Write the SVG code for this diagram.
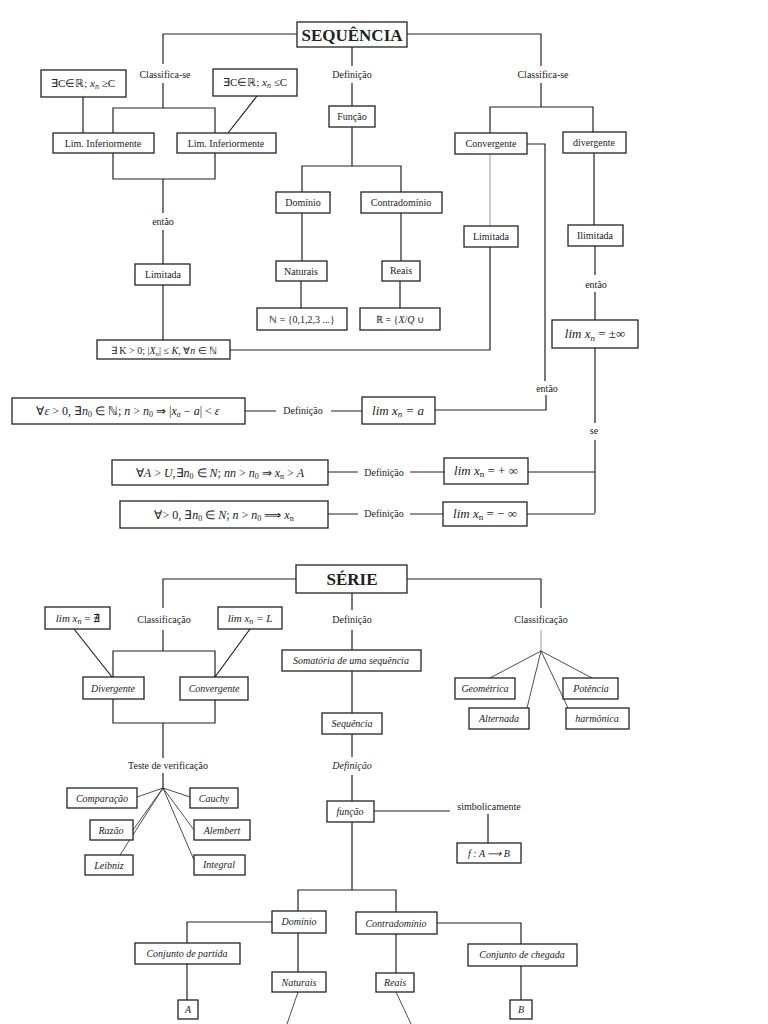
<svg xmlns="http://www.w3.org/2000/svg" width="768" height="1024" viewBox="0 0 768 1024" font-size="10">
<style>
rect{fill:#fff;stroke:#222;stroke-width:1.3}
text{font-family:"Liberation Serif",serif;fill:#222;text-anchor:middle}
.i{font-style:italic}
.m{font-size:11px}
.t{font-size:17px;font-weight:bold}
.c path,.c line{stroke:#222;stroke-width:1.2;fill:none}
.c .g{stroke:#aaa}
.c .th{stroke-width:0.8}
</style>
<rect x="0" y="0" width="768" height="1024" style="stroke:none"/>
<g class="c">
<path d="M297 34H163V64M163 83V108M113 133V108H215V133M83 97V133M257 96L228 133M113 153V179H215V153M163 179V213M163 230V264M163 285V340M230 350H490V247"/>
<path d="M352 47V66M352 83V106M352 127V166M302 192V166H401V192M302 213V261M301 281V308M401 213V261M400 281V308"/>
<path d="M407 34H541V66M541 83V107M490 133V107H593V133M527 144H545V381M546 395V410H435M594 153V225M595 246V275M595 292V320M595 348V423M595 440V513M528 472H595M527 514H595"/>
<path class="g" d="M490 154V226"/>
<path d="M245 411H276M331 411H362M328 472H358M410 472H444M328 514H358M410 514H443"/>
<path d="M296 579H163V608M163 630V651M113 677V651H215V677M74 629L112 677M250 629L215 677M113 699V723H215V700M163 723V758M163 773V788"/>
<path class="th" d="M163 788L137 797M163 788L190 797M163 788L133 830M163 788L194 830M163 788L120 855M163 788L194 860"/>
<path d="M352 593V610M352 630V650M352 671V713M352 734V757M352 775V801M374 811H450M488 814V843M352 822V890M298 911V890H396V912M272 922H187V943M187 964V1000M298 933V972M396 934V973M437 923H521V944M521 966V1000"/>
<path class="th" d="M298 992L287 1024M396 992L411 1024"/>
<path d="M407 579H541V608"/>
<path class="g" d="M541 630V651"/>
<path class="th" d="M541 651L490 678M541 651L592 678M541 651L527 708M541 651L568 708"/>
</g>
<g id="sequencia"><rect x="297" y="22" width="110" height="25"/><text class="t" x="352" y="41">SEQUÊNCIA</text></g>
<text x="165" y="78">Classifica-se</text>
<text x="352" y="78">Definição</text>
<text x="543" y="78">Classifica-se</text>
<g id="c1"><rect x="41" y="70" width="85" height="27"/><text class="m" x="83" y="87">∃C∈ℝ; <tspan class="i">x<tspan font-size="8" dy="2">n</tspan></tspan><tspan dy="-2"> ≥C</tspan></text></g>
<g id="c2"><rect x="213" y="69" width="84" height="27"/><text class="m" x="255" y="86">∃C∈ℝ; <tspan class="i">x<tspan font-size="8" dy="2">n</tspan></tspan><tspan dy="-2"> ≤C</tspan></text></g>
<g id="lim1"><rect x="53" y="133" width="101" height="20"/><text x="103" y="147">Lim. Inferiormente</text></g>
<g id="lim2"><rect x="177" y="133" width="99" height="20"/><text x="226" y="147">Lim. Inferiormente</text></g>
<text x="163" y="225">então</text>
<g id="limitada1"><rect x="135" y="264" width="55" height="21"/><text x="163" y="278">Limitada</text></g>
<g id="k"><rect x="97" y="340" width="133" height="19"/><text x="164" y="354">∃ K &gt; 0; |<tspan class="i">X<tspan font-size="7" dy="2">n</tspan></tspan><tspan dy="-2">| ≤ </tspan><tspan class="i">K</tspan>, ∀<tspan class="i">n</tspan> ∈ ℕ</text></g>
<g id="funcao"><rect x="329" y="106" width="46" height="21"/><text x="352" y="120">Função</text></g>
<g id="dominio"><rect x="276" y="192" width="54" height="21"/><text x="303" y="206">Domínio</text></g>
<g id="contra"><rect x="361" y="192" width="81" height="21"/><text x="401" y="206">Contradomínio</text></g>
<g id="naturais"><rect x="276" y="261" width="51" height="20"/><text x="301" y="275">Naturais</text></g>
<g id="reais"><rect x="382" y="261" width="38" height="20"/><text x="401" y="274">Reais</text></g>
<g id="nset"><rect x="257" y="308" width="90" height="22"/><text x="302" y="323">ℕ = {0,1,2,3 ...}</text></g>
<g id="rset"><rect x="360" y="308" width="80" height="22"/><text x="400" y="323">ℝ = {<tspan class="i">X</tspan>/<tspan class="i">Q</tspan> ∪</text></g>
<g id="conv"><rect x="455" y="133" width="72" height="21"/><text x="491" y="147">Convergente</text></g>
<g id="div"><rect x="563" y="132" width="63" height="21"/><text x="594" y="146">divergente</text></g>
<g id="limitada2"><rect x="464" y="226" width="54" height="21"/><text x="491" y="240">Limitada</text></g>
<g id="ilimitada"><rect x="568" y="225" width="55" height="21"/><text x="595" y="239">Ilimitada</text></g>
<text x="596" y="288">então</text>
<g id="limpm"><rect x="552" y="320" width="86" height="28"/><text x="595" y="338" font-size="13"><tspan class="i">lim x<tspan font-size="9" dy="3">n</tspan></tspan><tspan dy="-3"> = ±∞</tspan></text></g>
<text x="547" y="392">então</text>
<text x="594" y="434">se</text>
<g id="eps"><rect x="12" y="398" width="233" height="26"/><text x="128" y="415" font-size="12">∀<tspan class="i">ε</tspan> &gt; 0, ∃<tspan class="i">n</tspan><tspan font-size="8" dy="2">0</tspan><tspan dy="-2"> ∈ ℕ; </tspan><tspan class="i">n</tspan> &gt; <tspan class="i">n</tspan><tspan font-size="8" dy="2">0</tspan><tspan dy="-2"> ⇒ |</tspan><tspan class="i">x<tspan font-size="8" dy="2">a</tspan></tspan><tspan dy="-2"> − </tspan><tspan class="i">a</tspan>| &lt; <tspan class="i">ε</tspan></text></g>
<text x="303" y="414">Definição</text>
<g id="lima"><rect x="362" y="397" width="73" height="27"/><text x="398" y="415" font-size="13" class="i">lim x<tspan font-size="9" dy="2">n</tspan><tspan dy="-2"> = a</tspan></text></g>
<g id="plusdef"><rect x="112" y="460" width="216" height="25"/><text x="220" y="477" font-size="12">∀<tspan class="i">A</tspan> &gt; <tspan class="i">U</tspan>,∃<tspan class="i">n</tspan><tspan font-size="8" dy="2">0</tspan><tspan dy="-2"> ∈ </tspan><tspan class="i">N</tspan>; <tspan class="i">nn</tspan> &gt; <tspan class="i">n</tspan><tspan font-size="8" dy="2">0</tspan><tspan dy="-2"> ⇒ </tspan><tspan class="i">x</tspan><tspan font-size="8" dy="2">n</tspan><tspan dy="-2"> &gt; </tspan><tspan class="i">A</tspan></text></g>
<text x="384" y="476">Definição</text>
<g id="limplus"><rect x="444" y="458" width="84" height="26"/><text x="486" y="475" font-size="13"><tspan class="i">lim x</tspan><tspan font-size="9" dy="2">n</tspan><tspan dy="-2"> = + ∞</tspan></text></g>
<g id="minusdef"><rect x="120" y="501" width="208" height="27"/><text x="224" y="519" font-size="12">∀&gt; 0, ∃<tspan class="i">n</tspan><tspan font-size="8" dy="2">0</tspan><tspan dy="-2"> ∈ </tspan><tspan class="i">N</tspan>; <tspan class="i">n</tspan> &gt; <tspan class="i">n</tspan><tspan font-size="8" dy="2">0</tspan><tspan dy="-2"> ⟹ </tspan><tspan class="i">x</tspan><tspan font-size="8" dy="2">n</tspan></text></g>
<text x="384" y="517">Definição</text>
<g id="limminus"><rect x="443" y="502" width="84" height="24"/><text x="485" y="518" font-size="13"><tspan class="i">lim x</tspan><tspan font-size="9" dy="2">n</tspan><tspan dy="-2"> = − ∞</tspan></text></g>

<g id="serie"><rect x="296" y="565" width="111" height="28"/><text class="t" x="352" y="585">SÉRIE</text></g>
<text x="164" y="623">Classificação</text>
<text x="352" y="623">Definição</text>
<text x="541" y="623">Classificação</text>
<g id="nex"><rect x="45" y="607" width="65" height="22"/><text x="78" y="622" font-size="11" class="i">lim x<tspan font-size="8" dy="2">n</tspan><tspan dy="-2" font-style="normal"> = ∄</tspan></text></g>
<g id="limL"><rect x="218" y="607" width="64" height="22"/><text x="250" y="622" font-size="11" class="i">lim x<tspan font-size="8" dy="2">n</tspan><tspan dy="-2"> = L</tspan></text></g>
<g id="sdiv"><rect x="83" y="677" width="61" height="22"/><text class="i" x="113" y="692">Divergente</text></g>
<g id="sconv"><rect x="180" y="677" width="68" height="23"/><text class="i" x="214" y="692">Convergente</text></g>
<text x="168" y="769">Teste de verificação</text>
<g id="comp"><rect x="67" y="788" width="70" height="20"/><text class="i" x="102" y="802">Comparação</text></g>
<g id="cauchy"><rect x="190" y="788" width="48" height="20"/><text class="i" x="214" y="802">Cauchy</text></g>
<g id="razao"><rect x="90" y="820" width="43" height="20"/><text class="i" x="111" y="834">Razão</text></g>
<g id="alembert"><rect x="194" y="820" width="56" height="20"/><text class="i" x="222" y="834">Alembert</text></g>
<g id="leibniz"><rect x="85" y="855" width="48" height="20"/><text class="i" x="109" y="869">Leibniz</text></g>
<g id="integral"><rect x="194" y="855" width="51" height="20"/><text class="i" x="219" y="868">Integral</text></g>
<g id="soma"><rect x="282" y="650" width="139" height="21"/><text class="i" x="351" y="664">Somatória de uma sequência</text></g>
<g id="seq2"><rect x="322" y="713" width="60" height="21"/><text class="i" x="352" y="727">Sequência</text></g>
<text class="i" x="352" y="769">Definição</text>
<g id="func2"><rect x="327" y="801" width="47" height="21"/><text class="i" x="350" y="815">função</text></g>
<text x="489" y="810">simbolicamente</text>
<g id="fab"><rect x="457" y="843" width="64" height="20"/><text class="i" x="489" y="857">f : A ⟶ B</text></g>
<g id="dom2"><rect x="272" y="911" width="54" height="22"/><text class="i" x="299" y="925">Domínio</text></g>
<g id="contra2"><rect x="356" y="912" width="81" height="22"/><text class="i" x="396" y="927">Contradomínio</text></g>
<g id="partida"><rect x="135" y="943" width="105" height="21"/><text class="i" x="187" y="957">Conjunto de partida</text></g>
<g id="chegada"><rect x="468" y="944" width="109" height="22"/><text class="i" x="522" y="958">Conjunto de chegada</text></g>
<g id="nat2"><rect x="272" y="972" width="54" height="20"/><text class="i" x="299" y="986">Naturais</text></g>
<g id="reais2"><rect x="376" y="973" width="38" height="19"/><text class="i" x="395" y="986">Reais</text></g>
<g id="A"><rect x="178" y="1000" width="20" height="19"/><text class="i" x="188" y="1013">A</text></g>
<g id="B"><rect x="510" y="1000" width="22" height="19"/><text class="i" x="521" y="1013">B</text></g>
<g id="geo"><rect x="455" y="678" width="60" height="21"/><text class="i" x="485" y="692">Geométrica</text></g>
<g id="pot"><rect x="563" y="678" width="55" height="21"/><text class="i" x="591" y="692">Potência</text></g>
<g id="alt"><rect x="469" y="708" width="60" height="21"/><text class="i" x="499" y="722">Alternada</text></g>
<g id="harm"><rect x="566" y="708" width="63" height="21"/><text class="i" x="597" y="722">harmônica</text></g>
</svg>
